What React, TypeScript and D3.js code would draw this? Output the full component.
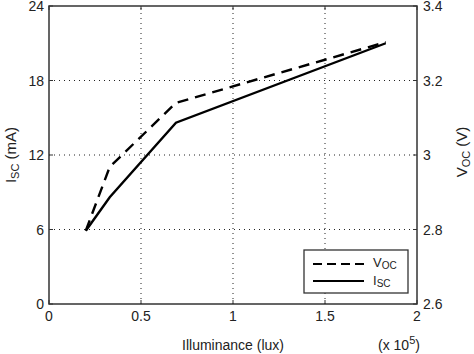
import React, { useEffect, useRef } from "react";
import * as d3 from "d3";

// illuminance in units of 1e5 lux
const lux = [0.2, 0.33, 0.69, 1.83];
const iscValues = [5.9, 8.6, 14.6, 21.0];
const vocValues = [2.797, 2.968, 3.14, 3.303];

const xTicks = [0, 0.5, 1, 1.5, 2];
const leftTicks = [0, 6, 12, 18, 24];
const rightTicks = [2.6, 2.8, 3, 3.2, 3.4];

const W = 474;
const H = 354;
const margin = { top: 6, right: 57, bottom: 50, left: 49 };
const FONT = "'Liberation Sans', Arial, sans-serif";

export default function App() {
  const ref = useRef<SVGSVGElement | null>(null);

  useEffect(() => {
    const svg = d3.select(ref.current);
    svg.selectAll("*").remove();

    const width = W - margin.left - margin.right;
    const height = H - margin.top - margin.bottom;

    const x = d3.scaleLinear().domain([0, 2]).range([margin.left, margin.left + width]);
    const yL = d3.scaleLinear().domain([0, 24]).range([margin.top + height, margin.top]);
    const yR = d3.scaleLinear().domain([2.6, 3.4]).range([margin.top + height, margin.top]);

    const g = svg.append("g");

    // dotted grid
    xTicks.slice(1, -1).forEach((t) => {
      g.append("line")
        .attr("x1", x(t)).attr("x2", x(t))
        .attr("y1", yL(0)).attr("y2", yL(24))
        .attr("stroke", "#222").attr("stroke-width", 1)
        .attr("stroke-dasharray", "1,4");
    });
    leftTicks.slice(1, -1).forEach((t) => {
      g.append("line")
        .attr("x1", x(0)).attr("x2", x(2))
        .attr("y1", yL(t)).attr("y2", yL(t))
        .attr("stroke", "#222").attr("stroke-width", 1)
        .attr("stroke-dasharray", "1,4");
    });

    // data lines
    const isc = lux.map((v, i) => [x(v), yL(iscValues[i])] as [number, number]);
    const voc = lux.map((v, i) => [x(v), yR(vocValues[i])] as [number, number]);
    const line = d3.line();

    g.append("path")
      .attr("d", line(voc))
      .attr("fill", "none")
      .attr("stroke", "#000")
      .attr("stroke-width", 2.4)
      .attr("stroke-dasharray", "11,7");
    g.append("path")
      .attr("d", line(isc))
      .attr("fill", "none")
      .attr("stroke", "#000")
      .attr("stroke-width", 2.4);

    // frame
    g.append("rect")
      .attr("x", x(0)).attr("y", yL(24))
      .attr("width", width).attr("height", height)
      .attr("fill", "none").attr("stroke", "#333").attr("stroke-width", 1.5);

    // tick marks (inward) and labels
    const tickLen = 4;
    xTicks.forEach((t) => {
      g.append("line").attr("x1", x(t)).attr("x2", x(t))
        .attr("y1", yL(0)).attr("y2", yL(0) - tickLen).attr("stroke", "#333");
      g.append("line").attr("x1", x(t)).attr("x2", x(t))
        .attr("y1", yL(24)).attr("y2", yL(24) + tickLen).attr("stroke", "#333");
      g.append("text")
        .attr("x", x(t)).attr("y", yL(0) + 17)
        .attr("text-anchor", "middle")
        .attr("font-family", FONT).attr("font-size", 14).attr("fill", "#222")
        .text(String(t));
    });
    leftTicks.forEach((t) => {
      g.append("line").attr("x1", x(0)).attr("x2", x(0) + tickLen)
        .attr("y1", yL(t)).attr("y2", yL(t)).attr("stroke", "#333");
      g.append("text")
        .attr("x", x(0) - 5).attr("y", yL(t) + 5)
        .attr("text-anchor", "end")
        .attr("font-family", FONT).attr("font-size", 14).attr("fill", "#222")
        .text(String(t));
    });
    rightTicks.forEach((t) => {
      g.append("line").attr("x1", x(2)).attr("x2", x(2) - tickLen)
        .attr("y1", yR(t)).attr("y2", yR(t)).attr("stroke", "#333");
      g.append("text")
        .attr("x", x(2) + 6).attr("y", yR(t) + 5)
        .attr("text-anchor", "start")
        .attr("font-family", FONT).attr("font-size", 14).attr("fill", "#222")
        .text(String(t));
    });

    // axis labels
    g.append("text")
      .attr("x", (x(0) + x(2)) / 2).attr("y", 350)
      .attr("text-anchor", "middle")
      .attr("font-family", FONT).attr("font-size", 14).attr("fill", "#222")
      .text("Illuminance (lux)");

    const mult = g.append("text")
      .attr("x", 378).attr("y", 350)
      .attr("font-family", FONT).attr("font-size", 14).attr("fill", "#222");
    mult.append("tspan").text("(x 10");
    mult.append("tspan").attr("dy", -6).attr("font-size", 11).text("5");
    mult.append("tspan").attr("dy", 6).text(")");

    const yLabel = (cx: number, cy: number, main: string, sub: string, rest: string) => {
      const t = g.append("text")
        .attr("transform", `translate(${cx},${cy}) rotate(-90)`)
        .attr("text-anchor", "middle")
        .attr("font-family", FONT).attr("font-size", 15).attr("fill", "#222");
      t.append("tspan").text(main);
      t.append("tspan").attr("font-size", 11).attr("dy", 3).text(sub);
      t.append("tspan").attr("dy", -3).text(rest);
    };
    yLabel(16, 155, "I", "SC", " (mA)");
    yLabel(467, 152, "V", "OC", " (V)");

    // legend
    const lg = g.append("g");
    lg.append("rect")
      .attr("x", 304).attr("y", 250).attr("width", 104).attr("height", 43)
      .attr("fill", "#fff").attr("stroke", "#333").attr("stroke-width", 1.3);
    lg.append("line")
      .attr("x1", 313).attr("x2", 364).attr("y1", 264).attr("y2", 264)
      .attr("stroke", "#000").attr("stroke-width", 2).attr("stroke-dasharray", "9,5");
    lg.append("line")
      .attr("x1", 313).attr("x2", 364).attr("y1", 281).attr("y2", 281)
      .attr("stroke", "#000").attr("stroke-width", 2);
    const legText = (y: number, main: string, sub: string) => {
      const t = lg.append("text")
        .attr("x", 373).attr("y", y)
        .attr("font-family", FONT).attr("font-size", 13).attr("fill", "#222");
      t.append("tspan").text(main);
      t.append("tspan").attr("font-size", 10).attr("dy", 2).text(sub);
    };
    legText(267, "V", "OC");
    legText(285, "I", "SC");
  }, []);

  return (
    <svg
      ref={ref}
      width={W}
      height={H}
      style={{ position: "absolute", left: 0, top: 0, background: "#fff" }}
    />
  );
}
